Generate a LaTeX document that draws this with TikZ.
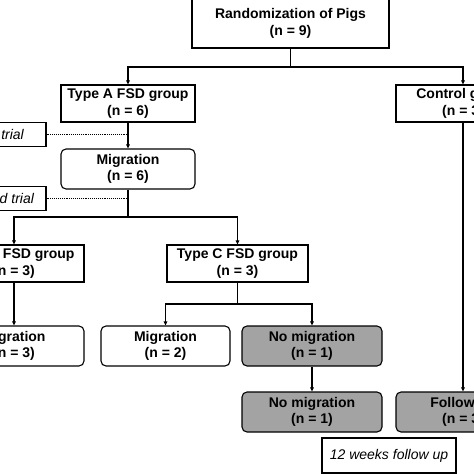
\documentclass[tikz,border=0pt]{standalone}
\usepackage{fontspec}
\setmainfont{Liberation Sans}
\usetikzlibrary{arrows.meta}
\definecolor{boxgray}{RGB}{163,163,163}

\begin{document}
\begin{tikzpicture}[x=1pt, y=-1pt, line width=1.1pt,
    every node/.style={font=\fontsize{14}{16.5}\selectfont\bfseries, align=center, inner sep=0pt},
    group/.style={draw, minimum height=37pt, execute at begin node={\rule{0pt}{14pt}}},
    result/.style={group, rounded corners=5pt, minimum height=40pt},
    noresult/.style={result, fill=boxgray},
    note/.style={draw, font=\fontsize{14}{16.5}\selectfont\itshape, minimum width=98pt, minimum height=24pt},
    arr/.style={-{Triangle[length=4pt, width=3.5pt]}}]
            \useasboundingbox (0,0) rectangle (474,474);
            \node[draw, minimum width=197pt, minimum height=49pt, execute at begin node={\rule{0pt}{17pt}}] (rand) at (290.5,23.5) {Randomization of Pigs\\(n = 9)};
            \node[group, minimum width=134pt] (typeA) at (128,103.5) {Type A FSD group\\(n = 6)};
            \node[group, minimum width=134pt] (control) at (463,103.5) {Control group\\(n = 3)};
            \node[result, minimum width=134pt] (migA) at (128,169) {Migration\\(n = 6)};
            \node[note] (trial1) at (-3,134.5) {First trial};
            \node[note] (trial2) at (-3,198.5) {Second trial};
            \node[group, minimum width=140pt] (typeB) at (14,263.5) {Type B FSD group\\(n = 3)};
            \node[group, minimum width=141pt] (typeC) at (237.5,263.5) {Type C FSD group\\(n = 3)};
            \node[result, minimum width=140pt] (migB) at (14,346) {Migration\\(n = 3)};
            \node[result, minimum width=129pt] (migC) at (165.5,346) {Migration\\(n = 2)};
            \node[noresult, minimum width=140pt] (nomigC) at (312,346) {No migration\\(n = 1)};
            \node[noresult, minimum width=140pt] (nomigF) at (312,412) {No migration\\(n = 1)};
            \node[noresult, minimum width=134pt] (follow) at (463,412) {Follow up\\(n = 3)};
            \node[note, minimum width=134pt, minimum height=35pt] (weeks) at (389,455.5) {12 weeks follow up};

            \coordinate (split1) at (290.5,67);
            \coordinate (split2) at (128,217);
            \coordinate (split3) at (237.5,304);
            \coordinate (dot1) at (128,134.5);
            \coordinate (dot2) at (128,198.5);

            \draw (rand.south) -- (split1);
            \draw[arr] (split1) -| (typeA.north);
            \draw[arr] (split1) -| (control.north);
            \draw[arr] (typeA.south) -- (migA.north);
            \draw (migA.south) -- (split2);
            \draw[arr] (split2) -| (typeB.north);
            \draw[arr] (split2) -| (typeC.north);
            \draw[arr] (typeB.south) -- (migB.north);
            \draw (typeC.south) -- (split3);
            \draw[arr] (split3) -| (migC.north);
            \draw[arr] (split3) -| (nomigC.north);
            \draw[arr] (nomigC.south) -- (nomigF.north);
            \draw[arr] (control.south) -- (follow.north);
            \draw[densely dotted, line width=0.9pt] (trial1.east) -- (dot1);
            \draw[densely dotted, line width=0.9pt] (trial2.east) -- (dot2);
        \end{tikzpicture}
\end{document}
